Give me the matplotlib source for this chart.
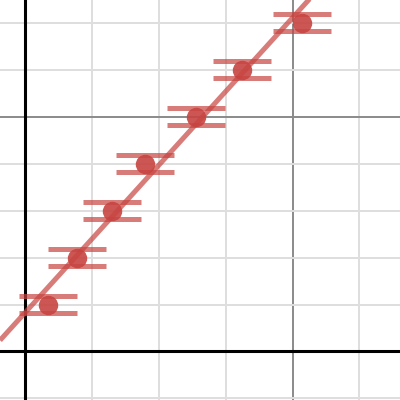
import numpy as np
import matplotlib
matplotlib.use("Agg")
import matplotlib.pyplot as plt

# data
x_vals = [0.17, 0.39, 0.65, 0.90, 1.28, 1.62, 2.07]
y_vals = [1, 2, 3, 4, 5, 6, 7]
y_err = [0.18, 0.18, 0.18, 0.18, 0.18, 0.18, 0.18]

red = "#c74440"
xmin, xmax = -0.187, 2.803
ymin, ymax = -1.032, 7.479

fig = plt.figure(figsize=(4, 4), dpi=100)
ax = fig.add_axes([0, 0, 1, 1])
ax.set_xlim(xmin, xmax)
ax.set_ylim(ymin, ymax)
ax.axis("off")

# grid, minor and major
for gx in np.arange(0.5, xmax, 0.5):
    c = "#8a8a8a" if abs(gx % 2) < 1e-9 else "#dedede"
    ax.axvline(gx, color=c, lw=1.4, zorder=0)
for gy in range(-1, 8):
    if gy == 0:
        continue
    c = "#8a8a8a" if gy % 5 == 0 else "#dedede"
    ax.axhline(gy, color=c, lw=1.4, zorder=0)
ax.axvline(0, color="black", lw=2.2, zorder=1)
ax.axhline(0, color="black", lw=2.2, zorder=1)

# error bars with wide caps (vertical part sits behind the dot)
ax.errorbar(x_vals, y_vals, yerr=y_err, fmt="none", ecolor=red, alpha=0.7,
            elinewidth=0, capsize=20.7, capthick=3.6, zorder=2)

# regression line
m, b = np.polyfit(x_vals, y_vals, 1)
xs = np.array([xmin, xmax])
ax.plot(xs, m * xs + b, color=red, alpha=0.7, lw=3.6, solid_capstyle="butt", zorder=3)

# points
ax.plot(x_vals, y_vals, "o", color=red, alpha=0.9, markersize=14, markeredgewidth=0, zorder=4)

fig.savefig("out.png", dpi=100)
